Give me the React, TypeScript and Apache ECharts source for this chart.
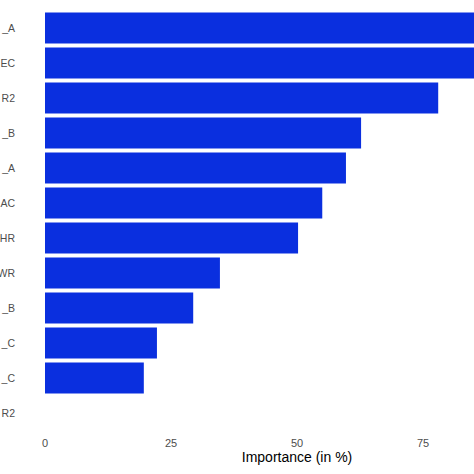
import React, { useEffect, useRef } from "react";
import * as echarts from "echarts";

// Variable names (as visible at the panel's left edge), top to bottom
const categories = ["_A", "EC", "R2", "_B", "_A", "AC", "HR", "WR", "_B", "_C", "_C", "R2"];
// Relative importance of each variable, in %
const importance = [100, 90, 78, 62.7, 59.7, 55, 50.2, 34.7, 29.4, 22.2, 19.6, 0];
// Importance axis ticks
const xTicks = [0, 25, 50, 75];

const BAR_COLOR = "#0a2fdf";
const FONT = "Liberation Sans, Arial, Helvetica, sans-serif";

export default function App() {
  const ref = useRef<HTMLDivElement>(null);

  useEffect(() => {
    if (!ref.current) return;
    const chart = echarts.init(ref.current, null, { renderer: "svg" });
    chart.setOption({
      animation: false,
      backgroundColor: "#ffffff",
      grid: {
        left: 45,
        right: 0,
        top: 10.5,
        bottom: 43.5,
        containLabel: false,
        outerBoundsMode: "none",
      },
      xAxis: {
        type: "value",
        min: xTicks[0],
        max: 85.1,
        interval: xTicks[1] - xTicks[0],
        axisLine: { show: false },
        axisTick: { show: false },
        splitLine: { show: false },
        axisLabel: {
          showMaxLabel: false,
          color: "#4d4d4d",
          fontSize: 11,
          fontFamily: FONT,
          margin: 7,
          formatter: (v: number) => (xTicks.includes(v) ? String(v) : ""),
        },
      },
      yAxis: {
        type: "category",
        data: categories,
        inverse: true,
        axisLine: { show: false },
        axisTick: { show: false },
        splitLine: { show: false },
        axisLabel: {
          color: "#4d4d4d",
          fontSize: 10.5,
          fontFamily: FONT,
          margin: 30,
          align: "right",
        },
      },
      graphic: [
        {
          type: "text",
          x: 297,
          y: 457,
          style: {
            text: "Importance (in %)",
            fill: "#000000",
            font: `14px ${FONT}`,
            textAlign: "center",
            textVerticalAlign: "middle",
          },
        },
      ],
      series: [
        {
          type: "bar",
          data: importance,
          barCategoryGap: "12%",
          clip: true,
          itemStyle: { color: BAR_COLOR },
          silent: true,
        },
      ],
    });
    return () => chart.dispose();
  }, []);

  return <div ref={ref} style={{ width: 474, height: 474, position: "fixed", left: 0, top: 0 }} />;
}
